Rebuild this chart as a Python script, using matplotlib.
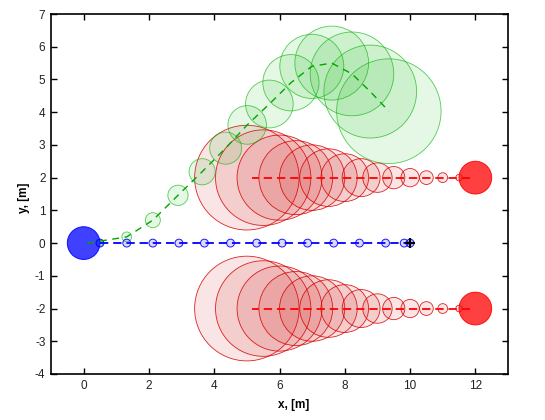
import matplotlib
matplotlib.use("Agg")
import matplotlib.pyplot as plt
from matplotlib.patches import Circle

plt.rcParams['font.family'] = ['Liberation Sans', 'DejaVu Sans']
plt.rcParams['lines.scale_dashes'] = False
plt.rcParams['axes.unicode_minus'] = False

# Robot (blue) start and planned path
robot_start = (0.0, 0.0)
robot_radius = 0.5
blue_x = [0.5, 1.32, 2.12, 2.92, 3.70, 4.50, 5.30, 6.08, 6.86, 7.66, 8.45, 9.25, 9.82, 10.0]
blue_y = [0.0] * 14
blue_r = 0.12
blue_line_x = [0.5, 10.0]
blue_line_y = [0.0, 0.0]
goal = (10.0, 0.0)

# Green predicted path with growing uncertainty
green_x = [0.5, 1.32, 2.12, 2.89, 3.63, 4.35, 5.01, 5.69, 6.35, 6.99, 7.60, 8.22, 8.78, 9.35]
green_y = [0.0, 0.19, 0.70, 1.46, 2.18, 2.90, 3.61, 4.25, 4.90, 5.40, 5.50, 5.17, 4.63, 4.03]
green_r = [0.10, 0.15, 0.23, 0.31, 0.40, 0.49, 0.59, 0.73, 0.86, 0.98, 1.13, 1.28, 1.42, 1.60]
green_line_x = [0.12] + green_x[1:]
green_line_y = [0.0] + green_y[1:]

# Obstacles (red)
obst_centers = [(12.0, 2.0), (12.0, -2.0)]
obst_radius = 0.5
red_x = [11.5, 11.0, 10.5, 10.0, 9.5, 9.0, 8.5, 8.0, 7.5, 7.0, 6.5, 6.0, 5.5, 5.0]
red_r = [0.10, 0.15, 0.21, 0.28, 0.34, 0.45, 0.58, 0.73, 0.88, 1.00, 1.13, 1.30, 1.46, 1.60]
red_line_x = [11.85, 5.15]

xticks = [0, 2, 4, 6, 8, 10, 12]
yticks = [-4, -3, -2, -1, 0, 1, 2, 3, 4, 5, 6, 7]

fig = plt.figure(figsize=(5.45, 4.2), dpi=100)
ax = fig.add_axes([51/545, 46/420, 457/545, 360/420])

# red uncertainty circles
for cx, cy in obst_centers:
    for x, r in zip(red_x, red_r):
        ax.add_patch(Circle((x, cy), r, facecolor=(0.8, 0, 0, 0.1),
                            edgecolor=(0.85, 0, 0, 0.85), lw=0.6, zorder=2))
    ax.add_patch(Circle((cx, cy), obst_radius, facecolor=(1, 0, 0, 0.75),
                        edgecolor=(1, 0, 0, 0.9), lw=0.7, zorder=3))
    ln, = ax.plot(red_line_x, [cy, cy], color='red', lw=1.3, zorder=5)
    ln.set_dashes((6, 3.5))

# green circles
for x, y, r in zip(green_x, green_y, green_r):
    ax.add_patch(Circle((x, y), r, facecolor=(0, 0.7, 0, 0.1),
                        edgecolor=(0, 0.7, 0, 0.65), lw=0.6, zorder=2))

# blue robot
ax.add_patch(Circle(robot_start, robot_radius, facecolor=(0, 0, 1, 0.75),
                    edgecolor=(0, 0, 1, 0.9), lw=0.7, zorder=3))
for x, y in zip(blue_x, blue_y):
    ax.add_patch(Circle((x, y), blue_r, facecolor=(0, 0, 1, 0.15),
                        edgecolor=(0, 0, 1, 0.9), lw=0.7, zorder=4))
ln, = ax.plot(blue_line_x, blue_line_y, color='blue', lw=1.3, zorder=5)
ln.set_dashes((6, 3.5))

ln, = ax.plot(green_line_x, green_line_y, color=(0, 0.65, 0), lw=1.0, zorder=5)
ln.set_dashes((5, 4))

ax.plot([goal[0]], [goal[1]], marker='+', color='black', ms=7, mew=1.6, zorder=6)

ax.set_xlim(-1, 13)
ax.set_ylim(-4, 7)
ax.set_xticks(xticks)
ax.set_yticks(yticks)
ax.tick_params(direction='in', length=4, width=1, top=True, right=True,
               labelsize=8.5, colors='black', labelcolor='#222222', pad=4)
for s in ax.spines.values():
    s.set_linewidth(1.2)

ax.set_xlabel('x, [m]', fontsize=8.5, fontweight='bold')
ax.set_ylabel('y, [m]', fontsize=8.5, fontweight='bold')
ax.xaxis.set_label_coords(0.53, -0.07)
ax.yaxis.set_label_coords(-0.045, 0.49)

fig.savefig('out.png', dpi=100)
